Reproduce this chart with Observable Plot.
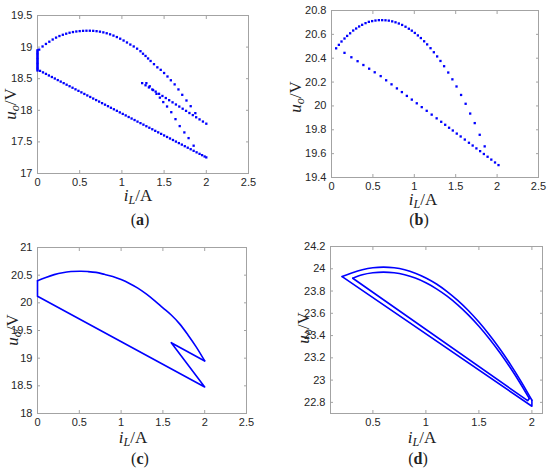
<!DOCTYPE html>
<html><head><meta charset="utf-8">
<script src="https://cdn.jsdelivr.net/npm/d3@7"></script>
<script src="https://cdn.jsdelivr.net/npm/@observablehq/plot@0.6"></script>
<style>
body{margin:0;background:#fff;}
#fig{position:relative;width:550px;height:469px;overflow:hidden;background:#fff;}
.panel{position:absolute;}
.lab{position:absolute;font-family:"Liberation Serif","Times New Roman",serif;color:#222;white-space:nowrap;font-size:17px;line-height:1;}
.xl{transform:translate(-50%,-50%);}
.yl{transform:translate(-50%,-50%) rotate(-90deg);}
.cap{transform:translate(-50%,-50%);font-size:16px;}
.lab sub{font-size:0.72em;vertical-align:-0.28em;line-height:0;}
</style></head><body><div id="fig"></div>
<script>
// ---------- tick labels ----------
const xTicksABC = [0, 0.5, 1, 1.5, 2, 2.5];
const xTicksD = [0.5, 1, 1.5, 2];
const yTicksA = [17, 17.5, 18, 18.5, 19, 19.5];
const yTicksB = [19.4, 19.6, 19.8, 20, 20.2, 20.4, 20.6, 20.8];
const yTicksC = [18, 18.5, 19, 19.5, 20, 20.5, 21];
const yTicksD = [22.8, 23, 23.2, 23.4, 23.6, 23.8, 24, 24.2];

// ---------- panel (a): scattered points ----------
const aVertical = [18.63,18.65,18.67,18.69,18.71,18.73,18.75,18.77,18.79,18.81,18.83,18.85,18.87,18.89,18.91,18.93,18.95];
const aUpper = [[0.02,18.96],[0.06,19.01],[0.10,19.05],[0.14,19.085],[0.18,19.12],[0.22,19.15],[0.26,19.175],[0.30,19.195],[0.34,19.212],[0.38,19.227],[0.42,19.238],[0.46,19.247],[0.50,19.253],[0.54,19.257],[0.58,19.259],[0.62,19.259],[0.66,19.257],[0.70,19.252],[0.74,19.244],[0.78,19.233],[0.82,19.219],[0.86,19.202],[0.90,19.182],[0.94,19.159],[0.98,19.133],[1.02,19.104],[1.06,19.073],[1.10,19.04],[1.14,19.01],[1.18,18.975],[1.22,18.935],[1.25,18.895],[1.28,18.86],[1.31,18.82],[1.34,18.78],[1.38,18.73],[1.42,18.68],[1.46,18.64],[1.50,18.59],[1.54,18.535],[1.58,18.475],[1.625,18.41],[1.67,18.33],[1.715,18.245],[1.765,18.155],[1.815,18.065],[1.87,17.955]];
const aLower = [[0.03,18.624],[0.065,18.600],[0.10,18.576],[0.135,18.551],[0.17,18.527],[0.205,18.503],[0.24,18.478],[0.275,18.454],[0.31,18.430],[0.345,18.405],[0.38,18.381],[0.415,18.357],[0.45,18.332],[0.485,18.308],[0.52,18.284],[0.555,18.259],[0.59,18.235],[0.625,18.211],[0.66,18.186],[0.695,18.162],[0.73,18.138],[0.765,18.113],[0.80,18.089],[0.835,18.065],[0.87,18.040],[0.905,18.016],[0.94,17.992],[0.975,17.967],[1.01,17.943],[1.045,17.919],[1.08,17.894],[1.115,17.870],[1.15,17.846],[1.185,17.821],[1.22,17.797],[1.255,17.773],[1.29,17.748],[1.325,17.724],[1.36,17.700],[1.395,17.675],[1.43,17.651],[1.465,17.627],[1.50,17.602],[1.535,17.578],[1.57,17.554],[1.605,17.530],[1.64,17.505],[1.675,17.481],[1.71,17.457],[1.745,17.432],[1.78,17.408],[1.815,17.384],[1.85,17.359],[1.885,17.335],[1.92,17.311],[1.95,17.290],[1.98,17.269],[2.00,17.255]];
const aMiddle = [[1.24,18.430],[1.28,18.396],[1.32,18.362],[1.36,18.329],[1.40,18.295],[1.44,18.261],[1.48,18.227],[1.52,18.194],[1.56,18.160],[1.60,18.126],[1.64,18.092],[1.68,18.059],[1.72,18.025],[1.76,17.991],[1.80,17.957],[1.84,17.924],[1.88,17.890],[1.92,17.856],[1.96,17.822],[2.00,17.788]];
const aSparse = [[1.29,18.43],[1.33,18.38],[1.37,18.32],[1.41,18.26],[1.45,18.20],[1.49,18.13],[1.535,18.06],[1.585,17.97],[1.635,17.86],[1.685,17.75],[1.74,17.65],[1.79,17.56],[1.85,17.44]];

// ---------- panel (b): scattered points ----------
const bUpper = [[0.056,20.483],[0.089,20.512],[0.121,20.540],[0.157,20.565],[0.189,20.587],[0.225,20.609],[0.262,20.632],[0.298,20.649],[0.334,20.666],[0.370,20.680],[0.411,20.694],[0.451,20.705],[0.491,20.711],[0.531,20.716],[0.572,20.719],[0.612,20.719],[0.652,20.718],[0.692,20.715],[0.733,20.709],[0.773,20.701],[0.813,20.691],[0.853,20.679],[0.894,20.664],[0.934,20.647],[0.970,20.631],[1.006,20.612],[1.043,20.591],[1.079,20.569],[1.119,20.542],[1.155,20.516],[1.196,20.484],[1.236,20.450],[1.276,20.415],[1.316,20.377],[1.36,20.333],[1.41,20.28],[1.46,20.223],[1.51,20.163],[1.565,20.092],[1.62,20.018],[1.675,19.936],[1.73,19.856],[1.79,19.758],[1.85,19.661]];
const bLower = [[0.157,20.445],[0.24,20.408],[0.315,20.375],[0.385,20.343],[0.455,20.312],[0.522,20.282],[0.594,20.25],[0.66,20.215],[0.725,20.181],[0.79,20.147],[0.85,20.116],[0.91,20.084],[0.97,20.053],[1.03,20.022],[1.09,19.990],[1.15,19.959],[1.21,19.927],[1.27,19.896],[1.325,19.867],[1.373,19.842],[1.42,19.817],[1.465,19.794],[1.513,19.768],[1.56,19.744],[1.61,19.718],[1.66,19.691],[1.705,19.668],[1.75,19.644],[1.795,19.621],[1.84,19.597],[1.885,19.574],[1.93,19.550],[1.975,19.526],[2.017,19.504]];

// ---------- panel (c): single loop ----------
const cArc = [[0,20.40],[0.1,20.46],[0.2,20.51],[0.3,20.545],[0.4,20.565],[0.52,20.57],[0.6,20.565],[0.7,20.55],[0.8,20.515],[0.9,20.475],[1.0,20.42],[1.1,20.35],[1.2,20.265],[1.3,20.16],[1.4,20.04],[1.5,19.91],[1.6,19.78],[1.7,19.62],[1.8,19.42],[1.9,19.2],[2.0,18.95]];
const cReturn = [[2.0,18.95],[1.6,19.28],[2.0,18.48],[0,20.12],[0,20.40]];

// ---------- panel (d): double loop ----------
const dOuterArc = [[0.21,23.93],[0.3,23.962],[0.4,23.991],[0.5,24.009],[0.6,24.015],[0.7,24.009],[0.8,23.991],[0.9,23.96],[1.0,23.917],[1.1,23.863],[1.2,23.795],[1.3,23.716],[1.4,23.625],[1.5,23.521],[1.6,23.405],[1.7,23.277],[1.8,23.137],[1.9,22.984],[2.0,22.819]];
const dOuterReturn = [[2.0,22.819],[2.0,22.765],[0.21,23.93]];
const dInnerArc = [[0.31,23.915],[0.4,23.946],[0.5,23.964],[0.6,23.97],[0.7,23.964],[0.8,23.946],[0.9,23.916],[1.0,23.874],[1.1,23.82],[1.2,23.754],[1.3,23.676],[1.4,23.586],[1.5,23.484],[1.6,23.37],[1.7,23.244],[1.8,23.106],[1.9,22.956],[1.975,22.835]];
const dInnerReturn = [[1.975,22.835],[1.96,22.815],[0.31,23.915]];

const BLUE = "#0000ff";
const AXIS = "#a3a3a3";
const fmt = d => String(d);

function dots(data) {
  return Plot.dot(data, {x: d => d[0], y: d => d[1], symbol: "square", r: 1.3, fill: BLUE, stroke: "none"});
}
function path(data, curve = "linear") {
  return Plot.line(data, {x: d => d[0], y: d => d[1], stroke: BLUE, strokeWidth: 1.6, curve});
}

function panel(cfg) {
  const {left, top, width, height, mL, mR, mT, mB, xDomain, yDomain, xTicks, yTicks, marks} = cfg;
  const svg = Plot.plot({
    width, height, marginLeft: mL, marginRight: mR, marginTop: mT, marginBottom: mB,
    style: {fontFamily: "'Liberation Sans', Arial, sans-serif", fontSize: "11px", color: "#262626", background: "transparent", overflow: "visible"},
    x: {domain: xDomain},
    y: {domain: yDomain},
    marks: [
      Plot.frame({stroke: AXIS}),
      Plot.axisX(xTicks, {anchor: "bottom", tickSize: 0, tickPadding: 5, tickFormat: fmt, label: null}),
      Plot.axisY(yTicks, {anchor: "left", tickSize: 0, tickPadding: 5, tickFormat: fmt, label: null}),
      Plot.axisX(xTicks, {anchor: "bottom", tickSize: 3, dy: -3, tickFormat: () => "", stroke: AXIS, label: null}),
      Plot.axisX(xTicks, {anchor: "top", tickSize: 3, dy: 3, tickFormat: () => "", stroke: AXIS, label: null}),
      Plot.axisY(yTicks, {anchor: "left", tickSize: 3, dx: 3, tickFormat: () => "", stroke: AXIS, label: null}),
      Plot.axisY(yTicks, {anchor: "right", tickSize: 3, dx: -3, tickFormat: () => "", stroke: AXIS, label: null}),
      ...marks
    ]
  });
  const wrap = document.createElement("div");
  wrap.className = "panel";
  wrap.style.left = left + "px";
  wrap.style.top = top + "px";
  wrap.appendChild(svg);
  return wrap;
}

const fig = document.getElementById("fig");

fig.appendChild(panel({
  left: 0, top: 0, width: 275, height: 200, mL: 37, mR: 27, mT: 15, mB: 27,
  xDomain: [0, 2.5], yDomain: [17, 19.5], xTicks: xTicksABC, yTicks: yTicksA,
  marks: [
    Plot.dot(aVertical, {x: () => 0, y: d => d, symbol: "square", r: 1.3, fill: BLUE, stroke: "none"}),
    dots(aUpper), dots(aLower), dots(aMiddle), dots(aSparse)
  ]
}));

fig.appendChild(panel({
  left: 275, top: 0, width: 275, height: 200, mL: 56, mR: 12, mT: 10, mB: 23,
  xDomain: [0, 2.5], yDomain: [19.4, 20.8], xTicks: xTicksABC, yTicks: yTicksB,
  marks: [dots(bUpper), dots(bLower)]
}));

fig.appendChild(panel({
  left: 0, top: 230, width: 275, height: 210, mL: 37, mR: 29, mT: 17, mB: 27,
  xDomain: [0, 2.5], yDomain: [18, 21], xTicks: xTicksABC, yTicks: yTicksC,
  marks: [path(cArc, "catmull-rom"), path(cReturn)]
}));

fig.appendChild(panel({
  left: 275, top: 230, width: 275, height: 210, mL: 55, mR: 8, mT: 16, mB: 27,
  xDomain: [0.1, 2.1], yDomain: [22.7, 24.2], xTicks: xTicksD, yTicks: yTicksD,
  marks: [path(dOuterArc, "catmull-rom"), path(dOuterReturn), path(dInnerArc, "catmull-rom"), path(dInnerReturn)]
}));

// ---------- text labels ----------
const xLabel = '<i>i</i><sub><i>L</i></sub>/A';
const yLabel = '<i>u</i><sub><i>o</i></sub>/V';
const labels = [
  {cls: "xl", x: 138, y: 195, html: xLabel},
  {cls: "xl", x: 423, y: 199, html: xLabel},
  {cls: "xl", x: 133, y: 437, html: xLabel},
  {cls: "xl", x: 422, y: 437, html: xLabel},
  {cls: "yl", x: 10, y: 104, html: yLabel},
  {cls: "yl", x: 295, y: 97, html: yLabel},
  {cls: "yl", x: 12, y: 330, html: yLabel},
  {cls: "yl", x: 303, y: 328, html: yLabel},
  {cls: "cap", x: 140, y: 220, html: '(<b>a</b>)'},
  {cls: "cap", x: 419, y: 220, html: '(<b>b</b>)'},
  {cls: "cap", x: 140, y: 459, html: '(<b>c</b>)'},
  {cls: "cap", x: 418, y: 459, html: '(<b>d</b>)'}
];
for (const l of labels) {
  const el = document.createElement("div");
  el.className = "lab " + l.cls;
  el.style.left = l.x + "px";
  el.style.top = l.y + "px";
  el.innerHTML = l.html;
  fig.appendChild(el);
}
</script>
</body></html>
